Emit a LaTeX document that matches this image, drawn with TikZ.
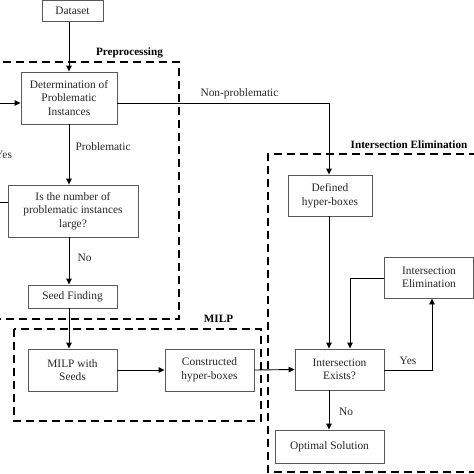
\documentclass[tikz,border=0pt]{standalone}
\usepackage{fontspec}
\setmainfont{Liberation Serif}
\usetikzlibrary{arrows.meta,calc}
\begin{document}
\begin{tikzpicture}[x=1pt,y=-1pt,
  txt/.style={font=\fontsize{11.4}{13.5}\selectfont, text=black!85},
  bx/.style={txt, draw=black!65, line width=0.9pt, inner sep=0pt, align=center, fill=white},
  arr/.style={line width=0.9pt, -{Triangle[length=6pt,width=5.5pt]}},
  ln/.style={line width=0.9pt},
  grp/.style={line width=2pt, dash pattern=on 8pt off 5pt},
  lbl/.style={font=\bfseries\fontsize{11.2}{13}\selectfont}]
\useasboundingbox (0,0) rectangle (474,474);
% group frames
\draw[grp] (-10,62) -- (179,62) -- (179,319) -- (-10,319);
\draw[grp] (14,329) rectangle (261,421);
\draw[grp] (490,154) -- (268,154) -- (268,472) -- (490,472);
\node[lbl] (lpre) at (129.5,53) {Preprocessing};
\node[lbl] (lmilp) at (218.5,319) {MILP};
\node[lbl] (lie) at (409,145) {Intersection Elimination};
% nodes
\node[bx, minimum width=61pt, minimum height=21pt] (dataset) at (72.5,11) {Dataset};
\node[bx, minimum width=96pt, minimum height=52pt] (det) at (69,98) {Determination of\\Problematic\\Instances};
\node[bx, minimum width=130pt, minimum height=52pt] (isnum) at (73,211) {Is the number of\\problematic instances\\large?};
\node[bx, minimum width=89pt, minimum height=23pt] (seed) at (72.5,296.5) {Seed Finding};
\node[bx, minimum width=89pt, minimum height=42pt] (milp) at (72.5,370) {MILP with\\Seeds};
\node[bx, minimum width=89pt, minimum height=42pt] (cons) at (209.5,370) {Constructed\\hyper-boxes};
\node[bx, minimum width=84pt, minimum height=41pt] (def) at (330,195.5) {Defined\\hyper-boxes};
\node[bx, minimum width=89pt, minimum height=41pt] (iex) at (339.5,369.5) {Intersection\\Exists?};
\node[bx, minimum width=89pt, minimum height=41pt] (iel) at (429,277.5) {Intersection\\Elimination};
\node[bx, minimum width=109pt, minimum height=33pt] (opt) at (329.5,446.5) {Optimal Solution};
% coordinates
\coordinate (npbend) at (329,103);
\coordinate (leftin) at (-5,103);
\coordinate (leftout) at (-5,202);
\coordinate (yesbend) at (432,370);
\coordinate (ielbend) at (350,278);
% connectors
\draw[arr] (dataset.south -| det.north) -- (det.north);
\draw[arr] (leftin) -- (det.west |- leftin);
\draw[ln] (isnum.west |- leftout) -- (leftout);
\draw[arr] (det.east |- npbend) -- (npbend) -- (npbend |- def.north);
\draw[arr] (det.south) -- (det.south |- isnum.north);
\draw[arr] (isnum.south -| det.south) -- (seed.north -| det.south);
\draw[arr] (seed.south -| det.south) -- (milp.north -| det.south);
\draw[arr] (milp.east) -- (cons.west);
\draw[arr] (cons.east) -- (iex.west);
\draw[arr] (def.south -| npbend) -- (iex.north -| npbend);
\draw[arr] (iex.east |- yesbend) -- (yesbend) -- (yesbend |- iel.south);
\draw[arr] (iel.west |- ielbend) -- (ielbend) -- (ielbend |- iex.north);
\draw[arr] (iex.south -| npbend) -- (opt.north -| npbend);
% edge labels
\node[txt] (tnp) at (239.5,94) {Non-problematic};
\node[txt, anchor=west] (tp) at (72,147) {Problematic};
\node[txt] (tno1) at (84.5,258) {No};
\node[txt] (tyes) at (408,361) {Yes};
\node[txt] (tno2) at (346,412) {No};
\node[txt, anchor=east] (tyesl) at (15.5,155) {Yes};
\end{tikzpicture}
\end{document}
